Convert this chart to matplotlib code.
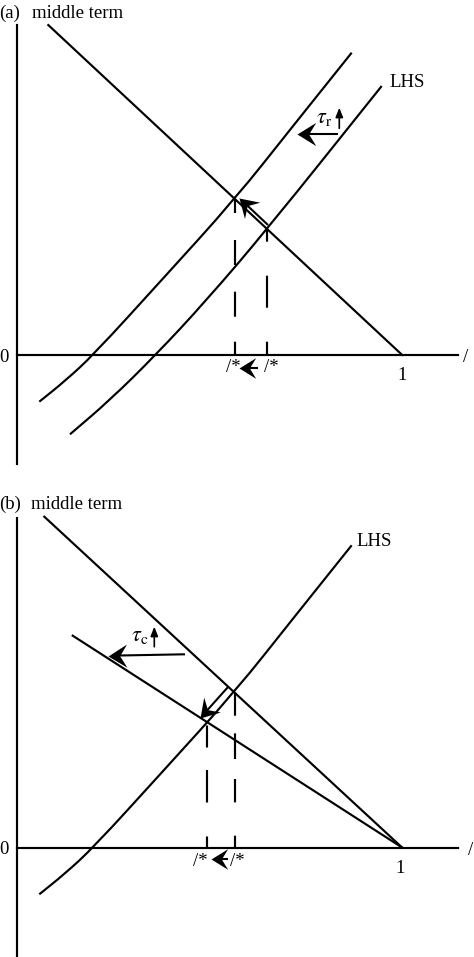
import numpy as np
import matplotlib
matplotlib.use('Agg')
import matplotlib.pyplot as plt
from matplotlib.markers import MarkerStyle
from matplotlib.path import Path
from matplotlib.patches import PathPatch
from matplotlib.transforms import Affine2D

plt.rcParams['font.family'] = ['Liberation Serif', 'DejaVu Serif']
plt.rcParams['mathtext.fontset'] = 'stix'
plt.rcParams['lines.scale_dashes'] = False

# ---------------- data ----------------
# axes extents (same for both panels)
yaxis_y = [-0.283, 0.856]
xaxis_x = [0.0, 1.145]

# panel (a)
a_mid_x = [0.0808, 1.0]
a_mid_y = [0.857, 0.0]
a_shift_x = [0.0574, 0.1242, 0.1977, 0.3753, 0.5657, 0.7164, 0.8688]
a_shift_y = [-0.1213, -0.0675, 0.0, 0.1948, 0.405, 0.5948, 0.7852]
a_lhs_x = [0.1371, 0.2410, 0.3597, 0.4878, 0.6496, 0.9468]
a_lhs_y = [-0.2060, -0.1169, 0.0, 0.1377, 0.327, 0.6987]
a_eq_x = [0.5657, 0.6496]
a_eq_y = [0.405, 0.327]
a_tick_labels = ['/*', '/*']
a_tick_x = [0.5605, 0.6592]

# panel (b)
b_mid_x = [0.0704, 1.0]
b_mid_y = [0.8595, 0.0]
b_mid2_x = [0.1442, 1.0]
b_mid2_y = [0.5504, 0.0]
b_lhs_x = [0.0574, 0.1242, 0.1977, 0.3753, 0.5657, 0.7164, 0.8688]
b_lhs_y = [-0.1213, -0.0675, 0.0, 0.1948, 0.405, 0.5948, 0.7852]
b_eq_x = [0.4937, 0.5657]
b_eq_y = [0.3256, 0.403]
b_tick_labels = ['/*', '/*']
b_tick_x = [0.4769, 0.5727]

# ---------------- layout ----------------
W, H = 474, 957
S = 385.0          # pixels per data unit
X0 = 17.2          # pixel column of the vertical axis

fig = plt.figure(figsize=(W / 100, H / 100), dpi=100)


def make_axes(top_px, bot_px, origin_y_px):
    ax = fig.add_axes([0, 1 - bot_px / H, 1, (bot_px - top_px) / H])
    ax.set_xlim(-X0 / S, (W - X0) / S)
    ax.set_ylim((origin_y_px - bot_px) / S, (origin_y_px - top_px) / S)
    ax.axis('off')
    return ax


def smooth_curve(ax, xs, ys, lw):
    """Quadratic B-spline through the read points, drawn as a matplotlib Path."""
    p = list(zip(xs, ys))
    mid = lambda a, b: ((a[0] + b[0]) / 2, (a[1] + b[1]) / 2)
    verts = [p[0], mid(p[0], p[1])]
    codes = [Path.MOVETO, Path.LINETO]
    for i in range(1, len(p) - 1):
        verts += [p[i], mid(p[i], p[i + 1])]
        codes += [Path.CURVE3, Path.CURVE3]
    verts.append(p[-1])
    codes.append(Path.LINETO)
    ax.add_patch(PathPatch(Path(verts, codes), facecolor='none', edgecolor='k',
                           lw=lw, capstyle='butt'))


HEAD = Path([(0, 0), (-1, 0.62), (-0.62, 0), (-1, -0.62), (0, 0)],
            [Path.MOVETO, Path.LINETO, Path.LINETO, Path.LINETO, Path.CLOSEPOLY])


def stealth(ax, start, tip, size=24, lw=1.5):
    (x0, y0), (x1, y1) = start, tip
    dx, dy = x1 - x0, y1 - y0
    L = np.hypot(dx, dy)
    ux, uy = dx / L, dy / L
    ang = np.degrees(np.arctan2(dy, dx))
    notch = size * 0.5 * 0.6 * (100 / 72) / S
    ax.plot([x0, x1 - ux * notch], [y0, y1 - uy * notch], color='k', lw=lw,
            solid_capstyle='butt')
    m = MarkerStyle(HEAD, transform=Affine2D().rotate_deg(ang))
    ax.plot([x1], [y1], marker=m, markersize=size, color='k', markeredgewidth=0,
            linestyle='none')


def up_arrow(ax, x, y0, y1):
    ax.annotate('', xy=(x, y1), xytext=(x, y0),
                arrowprops=dict(arrowstyle='-|>,head_length=0.55,head_width=0.22',
                                lw=1.2, color='k', shrinkA=0, shrinkB=0))


def pt(px_list):
    return tuple(v * 0.72 for v in px_list)


LW = 1.55
FS = 13.5

# ================= panel (a) =================
ax = make_axes(0, 480, 355.0)
ax.plot([0, 0], yaxis_y, color='k', lw=LW)
ax.plot(xaxis_x, [0, 0], color='k', lw=LW)
ax.plot(a_mid_x, a_mid_y, color='k', lw=LW)
smooth_curve(ax, a_shift_x, a_shift_y, LW)
smooth_curve(ax, a_lhs_x, a_lhs_y, LW)
ax.plot([a_eq_x[0]] * 2, [0, a_eq_y[0]], color='k', lw=LW,
        linestyle=(0, pt([13.3, 25, 25, 26.7, 25, 27, 15, 10])))
ax.plot([a_eq_x[1]] * 2, [0, a_eq_y[1]], color='k', lw=LW,
        linestyle=(0, pt([13.3, 34, 32, 34, 15, 10])))

ax.text(-0.0473, 0.8745, '(a)', fontsize=FS, ha='left', va='baseline')
ax.text(0.0377, 0.8745, 'middle term', fontsize=FS, ha='left', va='baseline')
ax.text(0.9665, 0.6953, 'LHS', fontsize=FS, ha='left', va='baseline')
ax.text(-0.0213, -0.0169, '0', fontsize=FS, ha='right', va='baseline')
ax.text(1.1657, -0.018, '/', fontsize=FS, ha='center', va='baseline')
ax.text(1.0, -0.064, '1', fontsize=FS, ha='center', va='baseline')
for lab, x in zip(a_tick_labels, a_tick_x):
    ax.text(x, -0.0442, lab, fontsize=FS, ha='center', va='baseline')

stealth(ax, (0.834, 0.5732), (0.726, 0.5732), size=27)
ax.text(0.776, 0.6026, r'$\tau_{\mathrm{r}}$', fontsize=16, ha='left', va='baseline')
up_arrow(ax, 0.8366, 0.5888, 0.6423)
stealth(ax, (0.6514, 0.3377), (0.5774, 0.4073), size=26)
stealth(ax, (0.6262, -0.0345), (0.5769, -0.0345), size=24)

# ================= panel (b) =================
ax = make_axes(480, 957, 847.6)
ax.plot([0, 0], yaxis_y, color='k', lw=LW)
ax.plot(xaxis_x, [0, 0], color='k', lw=LW)
ax.plot(b_mid_x, b_mid_y, color='k', lw=LW)
ax.plot(b_mid2_x, b_mid2_y, color='k', lw=LW)
smooth_curve(ax, b_lhs_x, b_lhs_y, LW)
ax.plot([b_eq_x[0]] * 2, [0, b_eq_y[0]], color='k', lw=LW,
        linestyle=(0, pt([11.5, 34, 32.5, 22.5, 22, 10])))
ax.plot([b_eq_x[1]] * 2, [0, b_eq_y[1]], color='k', lw=LW,
        linestyle=(0, pt([12.3, 33.3, 23.4, 20, 25.6, 17.7, 25, 10])))

ax.text(-0.0473, 0.8787, '(b)', fontsize=FS, ha='left', va='baseline')
ax.text(0.0351, 0.8787, 'middle term', fontsize=FS, ha='left', va='baseline')
ax.text(0.88, 0.7834, 'LHS', fontsize=FS, ha='left', va='baseline')
ax.text(-0.0213, -0.0169, '0', fontsize=FS, ha='right', va='baseline')
ax.text(1.178, -0.019, '/', fontsize=FS, ha='center', va='baseline')
ax.text(0.995, -0.065, '1', fontsize=FS, ha='center', va='baseline')
for lab, x in zip(b_tick_labels, b_tick_x):
    ax.text(x, -0.0465, lab, fontsize=FS, ha='center', va='baseline')

stealth(ax, (0.4358, 0.5021), (0.2366, 0.4984), size=27)
ax.text(0.2954, 0.5366, r'$\tau_{\mathrm{c}}$', fontsize=16, ha='left', va='baseline')
up_arrow(ax, 0.3561, 0.5218, 0.5738)
stealth(ax, (0.5483, 0.4179), (0.4748, 0.3358), size=26)
stealth(ax, (0.5483, -0.0304), (0.5026, -0.0304), size=24)

fig.savefig('out.png', dpi=100)
